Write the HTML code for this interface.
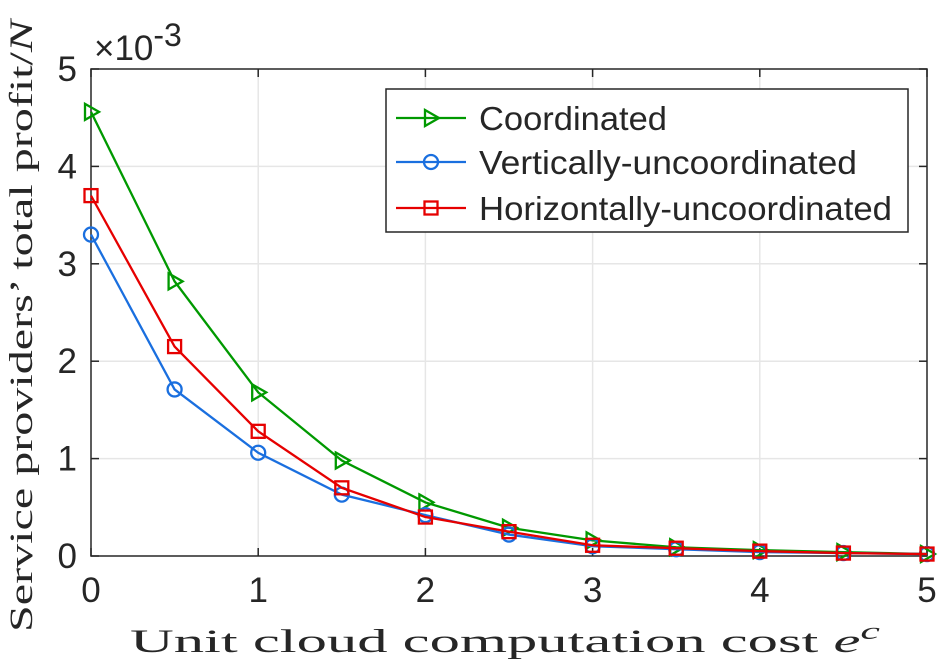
<!DOCTYPE html>
<html><head><style>
body{margin:0;background:#fff;}
svg text{font-family:"Liberation Sans",sans-serif;fill:#262626;}
</style></head><body>
<svg id="s" width="942" height="667" xmlns="http://www.w3.org/2000/svg"></svg>
<script>
const L=91,T=69,R=927,B=556;
const X=v=>L+(R-L)*v/5, Y=v=>B-(B-T)*v/5;
let h='';
for(let i=1;i<5;i++){h+=`<line x1="${X(i)}" y1="${T}" x2="${X(i)}" y2="${B}" stroke="#e6e6e6" stroke-width="1.5"/>`;
h+=`<line x1="${L}" y1="${Y(i)}" x2="${R}" y2="${Y(i)}" stroke="#e6e6e6" stroke-width="1.5"/>`;}
h+=`<rect x="${L}" y="${T}" width="${R-L}" height="${B-T}" fill="none" stroke="#262626" stroke-width="1.5"/>`;
for(let i=0;i<=5;i++){
h+=`<line x1="${X(i)}" y1="${B}" x2="${X(i)}" y2="${B-8}" stroke="#262626" stroke-width="1.5"/><line x1="${X(i)}" y1="${T}" x2="${X(i)}" y2="${T+8}" stroke="#262626" stroke-width="1.5"/>`;
h+=`<line x1="${L}" y1="${Y(i)}" x2="${L+8}" y2="${Y(i)}" stroke="#262626" stroke-width="1.5"/><line x1="${R}" y1="${Y(i)}" x2="${R-8}" y2="${Y(i)}" stroke="#262626" stroke-width="1.5"/>`;
h+=`<text x="${X(i)}" y="${B+46}" font-size="35" text-anchor="middle">${i}</text>`;
h+=`<text x="${L-14}" y="${Y(i)+12}" font-size="35" text-anchor="end">${i}</text>`;}
h+=`<text x="94" y="60" font-size="35">×10<tspan dy="-14" font-size="32">-3</tspan></text>`;
const xs=[0,.5,1,1.5,2,2.5,3,3.5,4,4.5,5];
const C=[4.56,2.82,1.68,0.98,0.55,0.29,0.16,0.09,0.06,0.04,0.02];
const V=[3.30,1.71,1.06,0.63,0.42,0.22,0.10,0.07,0.04,0.03,0.02];
const H=[3.70,2.15,1.28,0.70,0.40,0.25,0.11,0.08,0.05,0.03,0.02];
function tri(x,y,c){return `<polygon points="${x-6},${y-8} ${x+8},${y} ${x-6},${y+8}" fill="none" stroke="${c}" stroke-width="2.3"/>`;}
function cir(x,y,c){return `<circle cx="${x}" cy="${y}" r="7" fill="none" stroke="${c}" stroke-width="2.3"/>`;}
function sq(x,y,c){return `<rect x="${x-6.5}" y="${y-6.5}" width="13" height="13" fill="none" stroke="${c}" stroke-width="2.3"/>`;}
function ser(d,c,m){let p=xs.map((x,i)=>X(x)+','+Y(d[i])).join(' ');
let s=`<polyline points="${p}" fill="none" stroke="${c}" stroke-width="2.3"/>`;
xs.forEach((x,i)=>s+=m(X(x),Y(d[i]),c));return s;}
h+=ser(C,'#009900',tri)+ser(V,'#1a6fdf',cir)+ser(H,'#e60000',sq);
h+=`<rect x="386" y="89" width="522" height="143" fill="#fff" stroke="#262626" stroke-width="1.5"/>`;
const lg=[['Coordinated','#009900',tri,118,188],['Vertically-uncoordinated','#1a6fdf',cir,162,378],['Horizontally-uncoordinated','#e60000',sq,208,413]];
lg.forEach(([t,c,m,y,w])=>{h+=`<line x1="396" y1="${y}" x2="466" y2="${y}" stroke="${c}" stroke-width="2.3"/>`+m(431,y,c)+`<text x="479" y="${y+12}" font-size="33" textLength="${w}" lengthAdjust="spacingAndGlyphs">${t}</text>`;});
h+=`<text x="130" y="652" font-size="33" textLength="750" lengthAdjust="spacingAndGlyphs" style="font-family:'Liberation Serif',serif">Unit cloud computation cost <tspan font-style="italic">e</tspan><tspan font-style="italic" dy="-13" font-size="24">c</tspan></text>`;
h+=`<text transform="translate(32,632) rotate(-90)" font-size="33" textLength="612" lengthAdjust="spacingAndGlyphs" style="font-family:'Liberation Serif',serif">Service providers’ total profit/<tspan font-style="italic">N</tspan></text>`;
document.getElementById('s').innerHTML=h;
</script>
</body></html>
